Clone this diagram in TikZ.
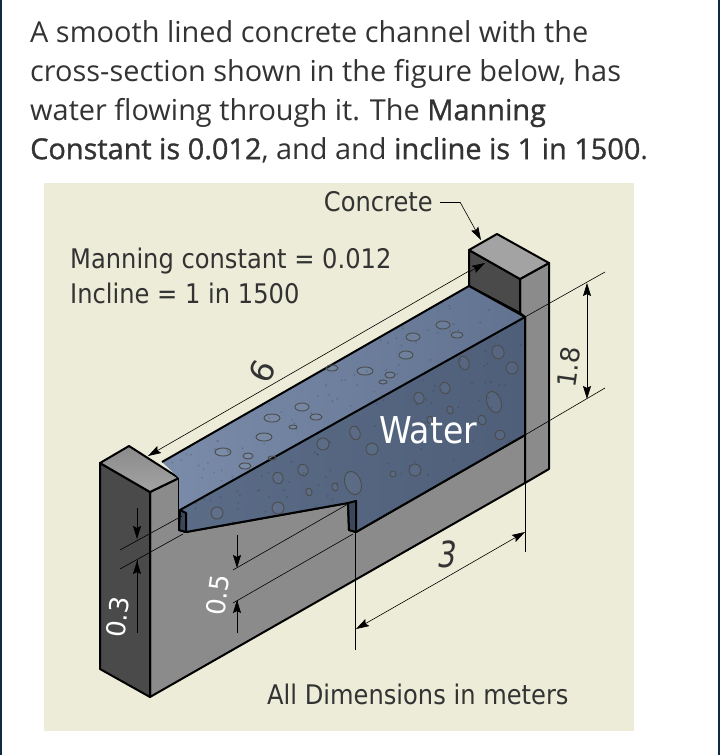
\documentclass[tikz,border=0pt]{standalone}
\usepackage{fontspec}
\setmainfont{Open Sans}
\newfontfamily\dimfont{DejaVu Sans}
\newfontfamily\notefont[FakeStretch=0.895]{DejaVu Sans}
\newfontfamily\leadfont[FakeBold=1.1]{Open Sans}
\usetikzlibrary{arrows.meta,calc}
\definecolor{panelcol}{HTML}{ECECD8}
\definecolor{edgecol}{HTML}{0F2A3E}
\definecolor{inkcol}{HTML}{333333}
\definecolor{wallcol}{HTML}{8B8B8B}
\definecolor{darkcol}{HTML}{4A4A4A}
\definecolor{capcol}{HTML}{A3A3A3}
\definecolor{wetcol}{HTML}{6B7F9F}
\definecolor{deepcol}{HTML}{4F5F7A}
\tikzset{
  solid/.style = { draw=black, line width=2pt, line join=round },
  dimline/.style = { draw=black, line width=0.6pt },
  dimtip/.style = { dimline, -{Stealth[length=13pt,width=8pt,inset=2pt]} },
  dimtext/.style = { font=\dimfont\fontsize{26}{26}\selectfont },
  notetext/.style = { anchor=west, inner sep=0pt, text=inkcol, font=\notefont\fontsize{27}{27}\selectfont },
  drop/.style = { draw=black!70, line width=0.9pt, fill=white, fill opacity=0.04 }
}
\begin{document}
\begin{tikzpicture}[x=1pt,y=-1pt]
  \useasboundingbox (0,0) rectangle (720,755);
  \fill[edgecol] (0,0) rectangle (2,755);
  \fill[edgecol] (718,0) rectangle (720,755);
  \node (intro) [anchor=north west, inner sep=0pt, align=left, text=inkcol,
    font=\fontsize{28.9}{39}\selectfont] at (30,20)
    {A smooth lined concrete channel with the\\
     cross-section shown in the figure below, has\\
     water flowing through it. The {\leadfont Manning}\\
     {\leadfont Constant is 0.012}, and and {\leadfont incline is 1 in 1500}.};
  \fill[panelcol] (44,183) rectangle (634,731);

  % end blocks and wall
  \coordinate (lbA) at (100,463);
  \coordinate (lbB) at (129,446);
  \coordinate (lbC) at (179,478);
  \coordinate (lbD) at (150,492);
  \coordinate (lbE) at (150,697);
  \coordinate (lbF) at (100,669);
  \coordinate (rbA) at (469,250);
  \coordinate (rbB) at (497,234);
  \coordinate (rbC) at (549,263);
  \coordinate (rbD) at (520,279);
  \coordinate (rbE) at (469,286);
  \coordinate (rbF) at (520,313);
  \coordinate (wA) at (525,317);
  \coordinate (wB) at (525,435);
  \coordinate (wC) at (356,532);
  \coordinate (wD) at (356,501);
  \coordinate (wE) at (348,503);
  \coordinate (wF) at (186,532);
  \coordinate (wG) at (186,507);
  \coordinate (wH) at (180,510);
  \coordinate (wI) at (162,462);
  \coordinate (baseR) at (549,469);
  \coordinate (baseM) at (525,483);

  \path[solid, fill=wallcol] (lbD) -- (lbC) -- (179,530) -- (wF) -- (wE) -- (349,530)
    -- (wC) -- (wB) -- (baseM) -- (lbE) -- cycle;
  \path[solid, fill=wallcol] (rbD) -- (rbC) -- (baseR) -- (baseM) -- (wA) -- (rbF) -- cycle;
  \path[solid, fill=darkcol] (lbA) -- (lbD) -- (lbE) -- (lbF) -- cycle;
  \path[solid, top color=capcol!85!black, bottom color=capcol] (lbA) -- (lbB) -- (lbC) -- (lbD) -- cycle;
  \path[solid, fill=darkcol] (rbA) -- (rbD) -- (rbF) -- (rbE) -- cycle;
  \path[solid, fill=capcol] (rbA) -- (rbB) -- (rbC) -- (rbD) -- cycle;

  % water
  \path[left color=wetcol!90!white, right color=wetcol!90!black] (wI) -- (rbE) -- (wA) -- (wH) -- (179,510) -- (lbC) -- cycle;
  \path[left color=wetcol!85!black, right color=deepcol] (wH) -- (wA) -- (wB) -- (wC) -- (wD) -- (wE) -- (wF) -- cycle;
  \begin{scope}
    \clip (wI) -- (rbE) -- (wA) -- (wB) -- (wC) -- (wD) -- (wE) -- (wF) -- (wH) -- (lbC) -- cycle;
    \pgfmathsetseed{7}
    \foreach \i in {1,...,260} {
      \pgfmathsetmacro\px{170+rnd*355}
      \pgfmathsetmacro\py{290+rnd*240}
      \fill[black, opacity=0.13] (\px,\py) circle (1.1pt);
    }
  \end{scope}
  \path[solid, fill=deepcol!75!black] (wH) -- (186,513) -- (wF) -- (179,530) -- cycle;
  \path[solid, fill=deepcol!75!black] (wE) -- (wD) -- (wC) -- (349,530) -- cycle;
  \draw[solid] (wI) -- (rbE) -- (wA) -- (wH);
  \draw[solid] (wA) -- (wB) -- (wC);
  \draw[solid] (wF) -- (wE);

  % droplets on the surface
  \foreach \x/\y/\w/\h in {223/452/8/4,272/418/8/4,264/437/8/4,302/407/7/4,316/417/6/3,
    248/456/5/3,245/466/6/3,332/368/6/3,443/325/7/4,413/337/7/4,457/335/6/3,406/355/7/4,
    365/371/8/4,390/375/5/3,383/382/4/2,293/427/4/2,272/458/4/2} {
    \draw[drop] (\x,\y) ellipse ({\w pt} and {\h pt});
  }
  \foreach \x/\y/\w/\h in {217/513/6/6,278/508/6/6,278/478/5/6,303/470/5/6,323/444/6/6,
    355/433/5/7,353/483/8/12,309/492/3/4,335/487/3/4,372/449/6/6,415/470/6/6,393/474/3/3,
    498/352/6/7,512/368/6/6,464/363/5/7,445/388/5/6,419/398/5/6,494/402/7/11,482/420/4/5,
    450/410/3/4,500/435/5/5,430/420/3/4} {
    \draw[drop, rotate around={20:(\x,\y)}] (\x,\y) ellipse ({\w pt} and {\h pt});
  }

  % dimension lines
  \draw[dimtip] (320,357) -- (148,456);
  \draw[dimline] (320,357) -- (469,271);
  \draw[dimtip] (469,272) -- (485,263);
  \coordinate (d18a) at (605,272);
  \coordinate (d18b) at (605,388);
  \draw[dimline] (wA) -- (d18a);
  \draw[dimline] (wB) -- (d18b);
  \draw[dimtip] (587,340) -- (587,283);
  \draw[dimtip] (587,340) -- (587,399);
  \draw[dimline] (wB) -- (525,552);
  \draw[dimline] (355,532) -- (355,650);
  \draw[dimtip] (440,581) -- (356,629);
  \draw[dimtip] (440,581) -- (525,532);
  \draw[dimline] (182,516) -- (120,550);
  \draw[dimline] (183,534) -- (120,569);
  \draw[dimline] (137,560) -- (137,633);
  \draw[dimtip] (137,508) -- (137,539);
  \draw[dimtip] (137,633) -- (137,561);
  \draw[dimline] (348,504) -- (233,570);
  \draw[dimline] (353,534) -- (233,603);
  \draw[dimline] (237,600) -- (237,633);
  \draw[dimtip] (237,535) -- (237,568);
  \draw[dimtip] (237,633) -- (237,600);

  % labels
  \node (waterlabel) [white, font=\notefont\fontsize{37}{37}\selectfont, inner sep=0pt] at (428,430) {Water};
  \node (threelabel) [text=inkcol, xscale=0.8, xslant=0.2, font=\dimfont\fontsize{36}{36}\selectfont] at (448,554) {3};
  \node (sixlabel) [text=inkcol, rotate=65, font=\dimfont\fontsize{32}{32}\selectfont] at (262,371) {6};
  \node (heightlabel) [dimtext, text=inkcol, rotate=82] at (569,367) {1.8};
  \node (sillone) [dimtext, white, rotate=82] at (118,617) {0.3};
  \node (silltwo) [dimtext, white, rotate=82] at (218,595) {0.5};
  \node (concrete) [notetext, anchor=east] at (433,202) {Concrete};
  \coordinate (leader) at (460,202);
  \draw[dimline] (concrete.east) ++(7,0) -- (leader);
  \draw[dimtip] (leader) -- (481,240);
  \node (manning) [notetext] at (70,261) {Manning constant = 0.012};
  \node (incline) [notetext] at (70,293) {Incline = 1 in 1500};
  \node (units) [notetext] at (267,694) {All Dimensions in meters};
\end{tikzpicture}
\end{document}
